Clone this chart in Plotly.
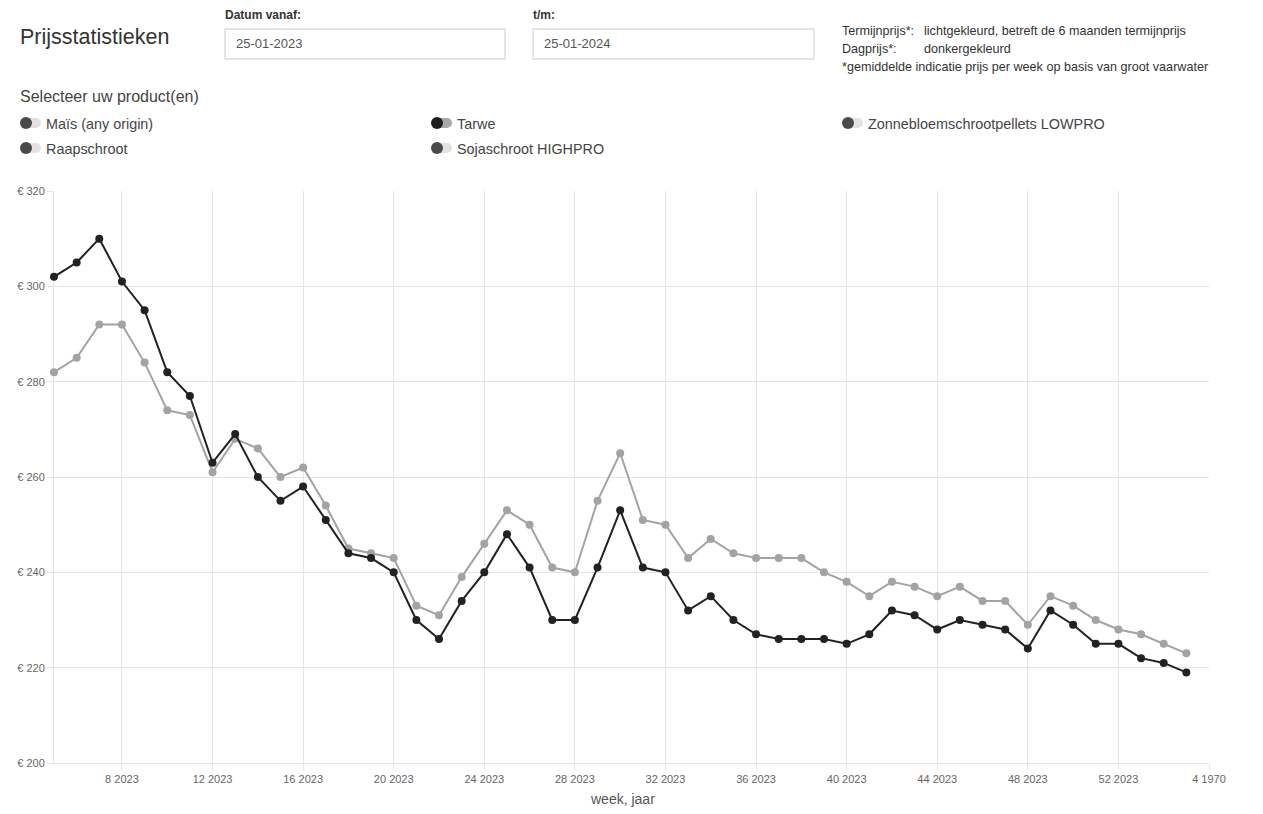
import plotly.graph_objects as go

# ---- data ----
weeks = list(range(5, 56))  # week 5 2023 .. week 3 2024 (numbered 53..55)
dagprijs = [302, 305, 310, 301, 295, 282, 277, 263, 269, 260, 255, 258, 251, 244, 243, 240,
            230, 226, 234, 240, 248, 241, 230, 230, 241, 253, 241, 240, 232, 235, 230, 227,
            226, 226, 226, 225, 227, 232, 231, 228, 230, 229, 228, 224, 232, 229, 225, 225,
            222, 221, 219]
termijnprijs = [282, 285, 292, 292, 284, 274, 273, 261, 268, 266, 260, 262, 254, 245, 244, 243,
                233, 231, 239, 246, 253, 250, 241, 240, 255, 265, 251, 250, 243, 247, 244, 243,
                243, 243, 240, 238, 235, 238, 237, 235, 237, 234, 234, 229, 235, 233, 230, 228,
                227, 225, 223]
tick_vals = [8, 12, 16, 20, 24, 28, 32, 36, 40, 44, 48, 52, 56]
tick_text = ["8 2023", "12 2023", "16 2023", "20 2023", "24 2023", "28 2023", "32 2023",
             "36 2023", "40 2023", "44 2023", "48 2023", "52 2023", "4 1970"]
products_col1 = ["Maïs (any origin)", "Raapschroot"]
products_col2 = ["Tarwe", "Sojaschroot HIGHPRO"]
products_col3 = ["Zonnebloemschrootpellets LOWPRO"]

FONT = "Liberation Sans, Arial, Helvetica, sans-serif"
W, H = 1263, 814
L, R, T, B = 54, 1209, 191, 763


def px(x):
    return (x - L) / (R - L)


def py(y):
    return (B - y) / (B - T)


fig = go.Figure()
fig.add_trace(go.Scatter(x=weeks, y=termijnprijs, mode="lines+markers",
                         line=dict(color="#a3a3a3", width=2),
                         marker=dict(color="#a3a3a3", size=8),
                         cliponaxis=False, name="Termijnprijs"))
fig.add_trace(go.Scatter(x=weeks, y=dagprijs, mode="lines+markers",
                         line=dict(color="#222222", width=2),
                         marker=dict(color="#222222", size=8),
                         cliponaxis=False, name="Dagprijs"))

shapes = []
annotations = []


def text(x, y, s, size, color="#333", bold=False, anchor="left"):
    if bold:
        s = "<b>" + s + "</b>"
    annotations.append(dict(x=px(x - 2), y=py(y), xref="paper", yref="paper", text=s,
                            showarrow=False, xanchor=anchor, yanchor="middle",
                            font=dict(family=FONT, size=size, color=color)))


# header
text(20, 37, "Prijsstatistieken", 21.5, "#333")
text(225, 15, "Datum vanaf:", 12, "#333", bold=True)
text(533, 15, "t/m:", 12, "#333", bold=True)
for x0, x1, val in [(225, 505, "25-01-2023"), (533, 814, "25-01-2024")]:
    shapes.append(dict(type="rect", xref="paper", yref="paper", x0=px(x0), x1=px(x1),
                       y0=py(59), y1=py(29), line=dict(color="#cccccc", width=1),
                       fillcolor="white"))
    text(x0 + 11, 44, val, 13, "#555")
text(842, 31, "Termijnprijs*:", 12.6, "#333")
text(924, 31, "lichtgekleurd, betreft de 6 maanden termijnprijs", 12.6, "#333")
text(842, 49, "Dagprijs*:", 12.6, "#333")
text(924, 49, "donkergekleurd", 12.6, "#333")
text(842, 67, "*gemiddelde indicatie prijs per week op basis van groot vaarwater", 12.6, "#333")
text(20, 96, "Selecteer uw product(en)", 16, "#444")


def toggle(x, y, label, active=False):
    track = "#a8a8a8" if active else "#e2e2e2"
    knob = "#1e1e1e" if active else "#4a4a4a"
    shapes.append(dict(type="rect", xref="paper", yref="paper", x0=px(x + 6), x1=px(x + 16),
                       y0=py(y + 5), y1=py(y - 5), line=dict(width=0), fillcolor=track,
                       layer="above"))
    shapes.append(dict(type="circle", xref="paper", yref="paper", x0=px(x + 11), x1=px(x + 21),
                       y0=py(y + 5), y1=py(y - 5), line=dict(width=0), fillcolor=track,
                       layer="above"))
    shapes.append(dict(type="circle", xref="paper", yref="paper", x0=px(x), x1=px(x + 12),
                       y0=py(y + 6), y1=py(y - 6), line=dict(width=0), fillcolor=knob,
                       layer="above"))
    text(x + 26, y + 1, label, 14.4, "#444")


for i, lab in enumerate(products_col1):
    toggle(20, 123 + 25 * i, lab)
for i, lab in enumerate(products_col2):
    toggle(431, 123 + 25 * i, lab, active=(lab == "Tarwe"))
for i, lab in enumerate(products_col3):
    toggle(842, 123 + 25 * i, lab)

# x-axis title
text(624, 799, "week, jaar", 14, "#555", anchor="center")

grid = "#e5e5e5"
fig.update_layout(
    width=W, height=H,
    margin=dict(l=L, r=W - R, t=T, b=H - B, pad=0),
    paper_bgcolor="white", plot_bgcolor="white",
    showlegend=False,
    font=dict(family=FONT, color="#666"),
    shapes=shapes, annotations=annotations,
    xaxis=dict(range=[5, 56.0001], tickmode="array", tickvals=tick_vals, ticktext=tick_text,
               showgrid=True, gridcolor=grid, gridwidth=1, zeroline=False,
               ticks="outside", ticklen=6, tickcolor=grid,
               showline=True, linecolor=grid, layer="below traces",
               tickfont=dict(family=FONT, size=11, color="#666")),
    yaxis=dict(range=[200, 320.0001], tick0=200, dtick=20, tickprefix="€ ",
               showgrid=True, gridcolor=grid, gridwidth=1, zeroline=False,
               ticks="outside", ticklen=6, tickcolor=grid,
               showline=True, linecolor=grid, layer="below traces",
               tickfont=dict(family=FONT, size=11, color="#666")),
)

fig.write_html("out.html")
